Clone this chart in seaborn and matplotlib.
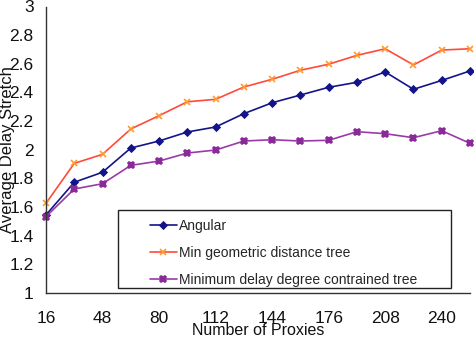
import numpy as np
import pandas as pd
import matplotlib
matplotlib.use("Agg")
import matplotlib.pyplot as plt
from matplotlib.patches import Rectangle
import seaborn as sns

proxies = [16, 32, 48, 64, 80, 96, 112, 128, 144, 160, 176, 192, 208, 224, 240, 256]
angular = [1.545, 1.773, 1.843, 2.012, 2.061, 2.124, 2.159, 2.252, 2.328, 2.382,
           2.436, 2.471, 2.543, 2.422, 2.484, 2.550]
min_geo = [1.626, 1.905, 1.968, 2.145, 2.238, 2.335, 2.352, 2.438, 2.492, 2.555,
           2.597, 2.659, 2.705, 2.592, 2.696, 2.705]
min_delay = [1.533, 1.726, 1.763, 1.891, 1.921, 1.977, 1.998, 2.061, 2.070, 2.061,
             2.066, 2.126, 2.112, 2.084, 2.133, 2.045]
series_names = ["Angular", "Min geometric distance tree",
                "Minimum delay degree contrained tree"]
x_tick_labels = [16, 48, 80, 112, 144, 176, 208, 240]
y_ticks = [1, 1.2, 1.4, 1.6, 1.8, 2, 2.2, 2.4, 2.6, 2.8, 3]

df = pd.DataFrame({
    "Number of Proxies": proxies * 3,
    "Average Delay Stretch": angular + min_geo + min_delay,
    "series": [series_names[0]] * len(proxies) + [series_names[1]] * len(proxies)
              + [series_names[2]] * len(proxies),
})

sns.set_style("white")
plt.rcParams["font.family"] = ["Liberation Sans", "DejaVu Sans"]
plt.rcParams["font.size"] = 10

W, H = 474, 338
fig = plt.figure(figsize=(4.74, 3.38), dpi=100)
ax = fig.add_axes([46 / W, 1 - 293 / H, (470 - 46) / W, (293 - 6.5) / H])
AW, AH = 470 - 46, 293 - 6.5

def axfx(px):
    return (px - 46) / AW

def axfy(py):
    return (293 - py) / AH

line_colors = {series_names[0]: "#14148a", series_names[1]: "#ff4a3a",
               series_names[2]: "#9a3aa8"}
marker_colors = {series_names[0]: "#14148a", series_names[1]: "#ff9a30",
                 series_names[2]: "#8a2a98"}
markers = {series_names[0]: "D", series_names[1]: "x", series_names[2]: "X"}
msizes = {series_names[0]: 3.5, series_names[1]: 5, series_names[2]: 4.5}

for name in series_names:
    sub = df[df["series"] == name]
    sns.lineplot(data=sub, x="Number of Proxies", y="Average Delay Stretch", ax=ax,
                 color=line_colors[name], marker=markers[name],
                 markersize=msizes[name], markerfacecolor=marker_colors[name],
                 markeredgecolor=marker_colors[name], markeredgewidth=1.2,
                 linewidth=1.2, label=name, clip_on=False)

ax.set_xlim(16, 256)
ax.set_ylim(1, 3)
ax.set_xticks(proxies)
ax.set_xticklabels([str(p) if p in x_tick_labels else "" for p in proxies])
ax.set_yticks(y_ticks)
ax.set_yticklabels([f"{v:g}" for v in y_ticks])
ax.tick_params(axis="both", direction="out", width=1, color="#333333",
               labelsize=12.5, labelcolor="#111111")
ax.tick_params(axis="x", length=4, pad=9)
ax.tick_params(axis="y", length=5, pad=4)

for s in ["top", "right"]:
    ax.spines[s].set_visible(False)
for s in ["left", "bottom"]:
    ax.spines[s].set_color("#333333")
    ax.spines[s].set_linewidth(1.0)

ax.set_xlabel("Number of Proxies", fontsize=11.5, color="#111111")
ax.set_ylabel("Average Delay Stretch", fontsize=12, color="#111111")
ax.xaxis.set_label_coords(0.5, axfy(323))
ax.yaxis.set_label_coords(axfx(15), 0.5)

# legend frame (Excel-style box)
ax.add_patch(Rectangle((axfx(118), axfy(287.7)), axfx(451) - axfx(118),
                       axfy(210) - axfy(287.7), transform=ax.transAxes,
                       fill=True, facecolor="white", edgecolor="#222222",
                       linewidth=1.0, zorder=4))
leg = ax.legend(loc="upper left", bbox_to_anchor=(axfx(142.5), axfy(211.5)),
                frameon=False, fontsize=10, handlelength=1.9, borderpad=0.55,
                labelspacing=0.92, handletextpad=0.2, borderaxespad=0)
leg.set_zorder(5)

fig.savefig("out.png", dpi=100)
